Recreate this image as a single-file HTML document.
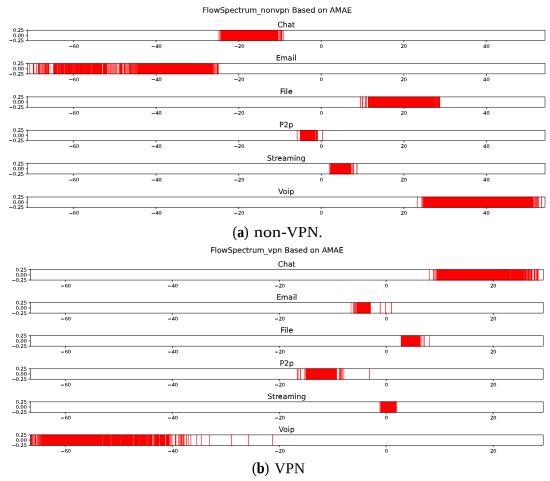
<!DOCTYPE html>
<html><head><meta charset="utf-8"><title>FlowSpectrum</title>
<style>html,body{margin:0;padding:0;background:#fff}svg{display:block}text{text-rendering:geometricPrecision;stroke:#000;stroke-width:.07px;font-family:"DejaVu Sans","Liberation Sans",sans-serif;fill:#000}.k{stroke:#000;stroke-width:.09px}</style>
</head><body>
<svg width="550" height="481" viewBox="0 0 550 481">
<rect width="550" height="481" fill="#fff"/>
<text transform="rotate(0.03 277.10 12.85)" x="277.1" y="12.85" font-size="7.66" text-anchor="middle">FlowSpectrum_nonvpn Based on AMAE</text>
<g fill="#f00"><rect x="218.05" y="30.05" width="0.50" height="10.75" fill-opacity="0.60"/><rect x="219.30" y="30.05" width="1.20" height="10.75" fill-opacity="0.75"/><rect x="220.50" y="30.05" width="57.60" height="10.75"/><rect x="278.10" y="30.05" width="0.47" height="10.75"/><rect x="278.92" y="30.05" width="0.52" height="10.75"/><rect x="279.77" y="30.05" width="0.60" height="10.75"/><rect x="280.36" y="30.05" width="0.14" height="10.75"/><rect x="280.50" y="30.05" width="1.70" height="10.75"/><rect x="282.95" y="30.05" width="0.70" height="10.75" fill-opacity="0.80"/></g>
<rect x="27.50" y="30.20" width="517.50" height="10.30" fill="none" stroke="#000" stroke-width="0.5"/>
<path d="M73.56 40.50v1.7M156.14 40.50v1.7M238.72 40.50v1.7M321.30 40.50v1.7M403.88 40.50v1.7M486.46 40.50v1.7M27.50 30.20h-1.7M27.50 35.35h-1.7M27.50 40.50h-1.7" stroke="#000" stroke-width="0.65" fill="none"/>
<clipPath id="c7660"><rect x="27.50" y="29.70" width="517.50" height="1"/><rect x="27.50" y="40.00" width="517.50" height="1"/></clipPath>
<g fill="#f00" opacity=".45" clip-path="url(#c7660)"><rect x="218.05" y="30.05" width="0.50" height="10.75" fill-opacity="0.60"/><rect x="219.30" y="30.05" width="1.20" height="10.75" fill-opacity="0.75"/><rect x="220.50" y="30.05" width="57.60" height="10.75"/><rect x="278.10" y="30.05" width="0.47" height="10.75"/><rect x="278.92" y="30.05" width="0.52" height="10.75"/><rect x="279.77" y="30.05" width="0.60" height="10.75"/><rect x="280.36" y="30.05" width="0.14" height="10.75"/><rect x="280.50" y="30.05" width="1.70" height="10.75"/><rect x="282.95" y="30.05" width="0.70" height="10.75" fill-opacity="0.80"/></g>
<text transform="rotate(0.03 73.96 48.00)" x="73.96" y="48.00" class="k" font-size="4.94" text-anchor="middle">−60</text>
<text transform="rotate(0.03 156.54 48.00)" x="156.54" y="48.00" class="k" font-size="4.94" text-anchor="middle">−40</text>
<text transform="rotate(0.03 239.12 48.00)" x="239.12" y="48.00" class="k" font-size="4.94" text-anchor="middle">−20</text>
<text transform="rotate(0.03 321.30 48.00)" x="321.30" y="48.00" class="k" font-size="4.94" text-anchor="middle">0</text>
<text transform="rotate(0.03 403.88 48.00)" x="403.88" y="48.00" class="k" font-size="4.94" text-anchor="middle">20</text>
<text transform="rotate(0.03 486.46 48.00)" x="486.46" y="48.00" class="k" font-size="4.94" text-anchor="middle">40</text>
<text transform="rotate(0.03 24.00 32.00)" x="24.00" y="32.00" class="k" font-size="4.94" text-anchor="end">0.25</text>
<text transform="rotate(0.03 24.00 37.15)" x="24.00" y="37.15" class="k" font-size="4.94" text-anchor="end">0.00</text>
<text transform="rotate(0.03 24.00 42.30)" x="24.00" y="42.30" class="k" font-size="4.94" text-anchor="end">−0.25</text>
<text transform="rotate(0.03 286.25 27.25)" x="286.25" y="27.25" font-size="7.45" text-anchor="middle">Chat</text>
<g fill="#f00"><rect x="29.35" y="63.41" width="0.70" height="10.75" fill-opacity="0.85"/><rect x="33.00" y="63.41" width="1.20" height="10.75"/><rect x="35.90" y="63.41" width="0.70" height="10.75"/><rect x="38.00" y="63.41" width="1.10" height="10.75"/><rect x="39.10" y="63.41" width="0.90" height="10.75" fill-opacity="0.90"/><rect x="40.00" y="63.41" width="2.40" height="10.75" fill-opacity="0.55"/><rect x="42.40" y="63.41" width="0.90" height="10.75"/><rect x="43.30" y="63.41" width="0.90" height="10.75" fill-opacity="0.60"/><rect x="44.20" y="63.41" width="3.70" height="10.75" fill-opacity="0.90"/><rect x="47.90" y="63.41" width="1.10" height="10.75"/><rect x="49.40" y="63.41" width="1.20" height="10.75" fill-opacity="0.40"/><rect x="53.20" y="63.41" width="165.40" height="10.75"/><rect x="57.00" y="63.41" width="0.80" height="10.75" fill-opacity="0.30" fill="#fff"/><rect x="59.70" y="63.41" width="0.80" height="10.75" fill-opacity="0.30" fill="#fff"/><rect x="63.90" y="63.41" width="0.80" height="10.75" fill-opacity="0.30" fill="#fff"/><rect x="66.40" y="63.41" width="0.40" height="10.75" fill-opacity="0.08" fill="#fff"/><rect x="73.20" y="63.41" width="0.60" height="10.75" fill-opacity="0.30" fill="#fff"/><rect x="74.80" y="63.41" width="0.40" height="10.75" fill-opacity="0.08" fill="#fff"/><rect x="79.40" y="63.41" width="0.40" height="10.75" fill-opacity="0.08" fill="#fff"/><rect x="84.30" y="63.41" width="0.40" height="10.75" fill-opacity="0.12" fill="#fff"/><rect x="91.10" y="63.41" width="0.60" height="10.75" fill-opacity="0.35" fill="#fff"/><rect x="102.00" y="63.41" width="0.70" height="10.75" fill-opacity="0.90" fill="#fff"/><rect x="107.20" y="63.41" width="0.60" height="10.75" fill-opacity="0.70" fill="#fff"/><rect x="107.90" y="63.41" width="9.10" height="10.75" fill-opacity="0.35" fill="#fff"/><rect x="109.50" y="63.41" width="0.50" height="10.75" fill-opacity="0.30" fill="#fff"/><rect x="112.00" y="63.41" width="0.60" height="10.75" fill-opacity="0.30" fill="#fff"/><rect x="114.50" y="63.41" width="0.50" height="10.75" fill-opacity="0.30" fill="#fff"/><rect x="117.00" y="63.41" width="1.00" height="10.75" fill-opacity="0.65" fill="#fff"/><rect x="118.00" y="63.41" width="0.80" height="10.75" fill-opacity="0.90" fill="#fff"/><rect x="118.80" y="63.41" width="0.60" height="10.75" fill-opacity="0.50" fill="#fff"/><rect x="122.60" y="63.41" width="1.20" height="10.75" fill-opacity="0.95" fill="#fff"/><rect x="125.10" y="63.41" width="4.20" height="10.75" fill-opacity="0.40" fill="#fff"/><rect x="130.80" y="63.41" width="6.70" height="10.75" fill-opacity="0.15" fill="#fff"/><rect x="133.50" y="63.41" width="0.50" height="10.75" fill-opacity="0.20" fill="#fff"/><rect x="212.90" y="63.41" width="2.50" height="10.75" fill-opacity="0.25" fill="#fff"/><rect x="215.50" y="63.41" width="1.00" height="10.75" fill-opacity="0.95" fill="#fff"/></g>
<rect x="27.50" y="63.56" width="517.50" height="10.30" fill="none" stroke="#000" stroke-width="0.5"/>
<path d="M73.56 73.86v1.7M156.14 73.86v1.7M238.72 73.86v1.7M321.30 73.86v1.7M403.88 73.86v1.7M486.46 73.86v1.7M27.50 63.56h-1.7M27.50 68.71h-1.7M27.50 73.86h-1.7" stroke="#000" stroke-width="0.65" fill="none"/>
<clipPath id="c7661"><rect x="27.50" y="63.06" width="517.50" height="1"/><rect x="27.50" y="73.36" width="517.50" height="1"/></clipPath>
<g fill="#f00" opacity=".45" clip-path="url(#c7661)"><rect x="29.35" y="63.41" width="0.70" height="10.75" fill-opacity="0.85"/><rect x="33.00" y="63.41" width="1.20" height="10.75"/><rect x="35.90" y="63.41" width="0.70" height="10.75"/><rect x="38.00" y="63.41" width="1.10" height="10.75"/><rect x="39.10" y="63.41" width="0.90" height="10.75" fill-opacity="0.90"/><rect x="40.00" y="63.41" width="2.40" height="10.75" fill-opacity="0.55"/><rect x="42.40" y="63.41" width="0.90" height="10.75"/><rect x="43.30" y="63.41" width="0.90" height="10.75" fill-opacity="0.60"/><rect x="44.20" y="63.41" width="3.70" height="10.75" fill-opacity="0.90"/><rect x="47.90" y="63.41" width="1.10" height="10.75"/><rect x="49.40" y="63.41" width="1.20" height="10.75" fill-opacity="0.40"/><rect x="53.20" y="63.41" width="165.40" height="10.75"/><rect x="57.00" y="63.41" width="0.80" height="10.75" fill-opacity="0.30" fill="#fff"/><rect x="59.70" y="63.41" width="0.80" height="10.75" fill-opacity="0.30" fill="#fff"/><rect x="63.90" y="63.41" width="0.80" height="10.75" fill-opacity="0.30" fill="#fff"/><rect x="66.40" y="63.41" width="0.40" height="10.75" fill-opacity="0.08" fill="#fff"/><rect x="73.20" y="63.41" width="0.60" height="10.75" fill-opacity="0.30" fill="#fff"/><rect x="74.80" y="63.41" width="0.40" height="10.75" fill-opacity="0.08" fill="#fff"/><rect x="79.40" y="63.41" width="0.40" height="10.75" fill-opacity="0.08" fill="#fff"/><rect x="84.30" y="63.41" width="0.40" height="10.75" fill-opacity="0.12" fill="#fff"/><rect x="91.10" y="63.41" width="0.60" height="10.75" fill-opacity="0.35" fill="#fff"/><rect x="102.00" y="63.41" width="0.70" height="10.75" fill-opacity="0.90" fill="#fff"/><rect x="107.20" y="63.41" width="0.60" height="10.75" fill-opacity="0.70" fill="#fff"/><rect x="107.90" y="63.41" width="9.10" height="10.75" fill-opacity="0.35" fill="#fff"/><rect x="109.50" y="63.41" width="0.50" height="10.75" fill-opacity="0.30" fill="#fff"/><rect x="112.00" y="63.41" width="0.60" height="10.75" fill-opacity="0.30" fill="#fff"/><rect x="114.50" y="63.41" width="0.50" height="10.75" fill-opacity="0.30" fill="#fff"/><rect x="117.00" y="63.41" width="1.00" height="10.75" fill-opacity="0.65" fill="#fff"/><rect x="118.00" y="63.41" width="0.80" height="10.75" fill-opacity="0.90" fill="#fff"/><rect x="118.80" y="63.41" width="0.60" height="10.75" fill-opacity="0.50" fill="#fff"/><rect x="122.60" y="63.41" width="1.20" height="10.75" fill-opacity="0.95" fill="#fff"/><rect x="125.10" y="63.41" width="4.20" height="10.75" fill-opacity="0.40" fill="#fff"/><rect x="130.80" y="63.41" width="6.70" height="10.75" fill-opacity="0.15" fill="#fff"/><rect x="133.50" y="63.41" width="0.50" height="10.75" fill-opacity="0.20" fill="#fff"/><rect x="212.90" y="63.41" width="2.50" height="10.75" fill-opacity="0.25" fill="#fff"/><rect x="215.50" y="63.41" width="1.00" height="10.75" fill-opacity="0.95" fill="#fff"/></g>
<text transform="rotate(0.03 73.96 81.36)" x="73.96" y="81.36" class="k" font-size="4.94" text-anchor="middle">−60</text>
<text transform="rotate(0.03 156.54 81.36)" x="156.54" y="81.36" class="k" font-size="4.94" text-anchor="middle">−40</text>
<text transform="rotate(0.03 239.12 81.36)" x="239.12" y="81.36" class="k" font-size="4.94" text-anchor="middle">−20</text>
<text transform="rotate(0.03 321.30 81.36)" x="321.30" y="81.36" class="k" font-size="4.94" text-anchor="middle">0</text>
<text transform="rotate(0.03 403.88 81.36)" x="403.88" y="81.36" class="k" font-size="4.94" text-anchor="middle">20</text>
<text transform="rotate(0.03 486.46 81.36)" x="486.46" y="81.36" class="k" font-size="4.94" text-anchor="middle">40</text>
<text transform="rotate(0.03 24.00 65.36)" x="24.00" y="65.36" class="k" font-size="4.94" text-anchor="end">0.25</text>
<text transform="rotate(0.03 24.00 70.51)" x="24.00" y="70.51" class="k" font-size="4.94" text-anchor="end">0.00</text>
<text transform="rotate(0.03 24.00 75.66)" x="24.00" y="75.66" class="k" font-size="4.94" text-anchor="end">−0.25</text>
<text transform="rotate(0.03 286.25 60.61)" x="286.25" y="60.61" font-size="7.45" text-anchor="middle">Email</text>
<g fill="#f00"><rect x="359.90" y="96.77" width="0.90" height="10.75" fill-opacity="0.80"/><rect x="361.90" y="96.77" width="1.10" height="10.75" fill-opacity="0.80"/><rect x="363.10" y="96.77" width="1.60" height="10.75" fill-opacity="0.12"/><rect x="365.00" y="96.77" width="1.90" height="10.75" fill-opacity="0.70"/><rect x="368.00" y="96.77" width="72.10" height="10.75"/><rect x="370.30" y="96.77" width="0.40" height="10.75" fill-opacity="0.15" fill="#fff"/><rect x="433.10" y="96.77" width="0.40" height="10.75" fill-opacity="0.12" fill="#fff"/><rect x="434.50" y="96.77" width="0.40" height="10.75" fill-opacity="0.12" fill="#fff"/><rect x="436.00" y="96.77" width="0.60" height="10.75" fill-opacity="0.20" fill="#fff"/><rect x="437.80" y="96.77" width="0.40" height="10.75" fill-opacity="0.15" fill="#fff"/></g>
<rect x="27.50" y="96.92" width="517.50" height="10.30" fill="none" stroke="#000" stroke-width="0.5"/>
<path d="M73.56 107.22v1.7M156.14 107.22v1.7M238.72 107.22v1.7M321.30 107.22v1.7M403.88 107.22v1.7M486.46 107.22v1.7M27.50 96.92h-1.7M27.50 102.07h-1.7M27.50 107.22h-1.7" stroke="#000" stroke-width="0.65" fill="none"/>
<clipPath id="c7662"><rect x="27.50" y="96.42" width="517.50" height="1"/><rect x="27.50" y="106.72" width="517.50" height="1"/></clipPath>
<g fill="#f00" opacity=".45" clip-path="url(#c7662)"><rect x="359.90" y="96.77" width="0.90" height="10.75" fill-opacity="0.80"/><rect x="361.90" y="96.77" width="1.10" height="10.75" fill-opacity="0.80"/><rect x="363.10" y="96.77" width="1.60" height="10.75" fill-opacity="0.12"/><rect x="365.00" y="96.77" width="1.90" height="10.75" fill-opacity="0.70"/><rect x="368.00" y="96.77" width="72.10" height="10.75"/><rect x="370.30" y="96.77" width="0.40" height="10.75" fill-opacity="0.15" fill="#fff"/><rect x="433.10" y="96.77" width="0.40" height="10.75" fill-opacity="0.12" fill="#fff"/><rect x="434.50" y="96.77" width="0.40" height="10.75" fill-opacity="0.12" fill="#fff"/><rect x="436.00" y="96.77" width="0.60" height="10.75" fill-opacity="0.20" fill="#fff"/><rect x="437.80" y="96.77" width="0.40" height="10.75" fill-opacity="0.15" fill="#fff"/></g>
<text transform="rotate(0.03 73.96 114.72)" x="73.96" y="114.72" class="k" font-size="4.94" text-anchor="middle">−60</text>
<text transform="rotate(0.03 156.54 114.72)" x="156.54" y="114.72" class="k" font-size="4.94" text-anchor="middle">−40</text>
<text transform="rotate(0.03 239.12 114.72)" x="239.12" y="114.72" class="k" font-size="4.94" text-anchor="middle">−20</text>
<text transform="rotate(0.03 321.30 114.72)" x="321.30" y="114.72" class="k" font-size="4.94" text-anchor="middle">0</text>
<text transform="rotate(0.03 403.88 114.72)" x="403.88" y="114.72" class="k" font-size="4.94" text-anchor="middle">20</text>
<text transform="rotate(0.03 486.46 114.72)" x="486.46" y="114.72" class="k" font-size="4.94" text-anchor="middle">40</text>
<text transform="rotate(0.03 24.00 98.72)" x="24.00" y="98.72" class="k" font-size="4.94" text-anchor="end">0.25</text>
<text transform="rotate(0.03 24.00 103.87)" x="24.00" y="103.87" class="k" font-size="4.94" text-anchor="end">0.00</text>
<text transform="rotate(0.03 24.00 109.02)" x="24.00" y="109.02" class="k" font-size="4.94" text-anchor="end">−0.25</text>
<text transform="rotate(0.03 286.25 93.97)" x="286.25" y="93.97" font-size="7.45" text-anchor="middle">File</text>
<g fill="#f00"><rect x="296.80" y="130.13" width="0.40" height="10.75"/><rect x="297.75" y="130.13" width="0.40" height="10.75"/><rect x="300.00" y="130.13" width="15.70" height="10.75"/><rect x="315.90" y="130.13" width="0.50" height="10.75" fill-opacity="0.70" fill="#fff"/><rect x="315.70" y="130.13" width="2.20" height="10.75"/><rect x="317.00" y="130.13" width="0.90" height="10.75" fill-opacity="0.10" fill="#fff"/><rect x="322.18" y="130.13" width="0.65" height="10.75"/></g>
<rect x="27.50" y="130.28" width="517.50" height="10.30" fill="none" stroke="#000" stroke-width="0.5"/>
<path d="M73.56 140.58v1.7M156.14 140.58v1.7M238.72 140.58v1.7M321.30 140.58v1.7M403.88 140.58v1.7M486.46 140.58v1.7M27.50 130.28h-1.7M27.50 135.43h-1.7M27.50 140.58h-1.7" stroke="#000" stroke-width="0.65" fill="none"/>
<clipPath id="c7663"><rect x="27.50" y="129.78" width="517.50" height="1"/><rect x="27.50" y="140.08" width="517.50" height="1"/></clipPath>
<g fill="#f00" opacity=".45" clip-path="url(#c7663)"><rect x="296.80" y="130.13" width="0.40" height="10.75"/><rect x="297.75" y="130.13" width="0.40" height="10.75"/><rect x="300.00" y="130.13" width="15.70" height="10.75"/><rect x="315.90" y="130.13" width="0.50" height="10.75" fill-opacity="0.70" fill="#fff"/><rect x="315.70" y="130.13" width="2.20" height="10.75"/><rect x="317.00" y="130.13" width="0.90" height="10.75" fill-opacity="0.10" fill="#fff"/><rect x="322.18" y="130.13" width="0.65" height="10.75"/></g>
<text transform="rotate(0.03 73.96 148.08)" x="73.96" y="148.08" class="k" font-size="4.94" text-anchor="middle">−60</text>
<text transform="rotate(0.03 156.54 148.08)" x="156.54" y="148.08" class="k" font-size="4.94" text-anchor="middle">−40</text>
<text transform="rotate(0.03 239.12 148.08)" x="239.12" y="148.08" class="k" font-size="4.94" text-anchor="middle">−20</text>
<text transform="rotate(0.03 321.30 148.08)" x="321.30" y="148.08" class="k" font-size="4.94" text-anchor="middle">0</text>
<text transform="rotate(0.03 403.88 148.08)" x="403.88" y="148.08" class="k" font-size="4.94" text-anchor="middle">20</text>
<text transform="rotate(0.03 486.46 148.08)" x="486.46" y="148.08" class="k" font-size="4.94" text-anchor="middle">40</text>
<text transform="rotate(0.03 24.00 132.08)" x="24.00" y="132.08" class="k" font-size="4.94" text-anchor="end">0.25</text>
<text transform="rotate(0.03 24.00 137.23)" x="24.00" y="137.23" class="k" font-size="4.94" text-anchor="end">0.00</text>
<text transform="rotate(0.03 24.00 142.38)" x="24.00" y="142.38" class="k" font-size="4.94" text-anchor="end">−0.25</text>
<text transform="rotate(0.03 286.25 127.33)" x="286.25" y="127.33" font-size="7.45" text-anchor="middle">P2p</text>
<g fill="#f00"><rect x="329.30" y="163.49" width="0.90" height="10.75" fill-opacity="0.85"/><rect x="330.20" y="163.49" width="21.30" height="10.75"/><rect x="352.40" y="163.49" width="1.40" height="10.75" fill-opacity="0.90"/><rect x="356.10" y="163.49" width="1.60" height="10.75" fill-opacity="0.50"/></g>
<rect x="27.50" y="163.64" width="517.50" height="10.30" fill="none" stroke="#000" stroke-width="0.5"/>
<path d="M73.56 173.94v1.7M156.14 173.94v1.7M238.72 173.94v1.7M321.30 173.94v1.7M403.88 173.94v1.7M486.46 173.94v1.7M27.50 163.64h-1.7M27.50 168.79h-1.7M27.50 173.94h-1.7" stroke="#000" stroke-width="0.65" fill="none"/>
<clipPath id="c7664"><rect x="27.50" y="163.14" width="517.50" height="1"/><rect x="27.50" y="173.44" width="517.50" height="1"/></clipPath>
<g fill="#f00" opacity=".45" clip-path="url(#c7664)"><rect x="329.30" y="163.49" width="0.90" height="10.75" fill-opacity="0.85"/><rect x="330.20" y="163.49" width="21.30" height="10.75"/><rect x="352.40" y="163.49" width="1.40" height="10.75" fill-opacity="0.90"/><rect x="356.10" y="163.49" width="1.60" height="10.75" fill-opacity="0.50"/></g>
<text transform="rotate(0.03 73.96 181.44)" x="73.96" y="181.44" class="k" font-size="4.94" text-anchor="middle">−60</text>
<text transform="rotate(0.03 156.54 181.44)" x="156.54" y="181.44" class="k" font-size="4.94" text-anchor="middle">−40</text>
<text transform="rotate(0.03 239.12 181.44)" x="239.12" y="181.44" class="k" font-size="4.94" text-anchor="middle">−20</text>
<text transform="rotate(0.03 321.30 181.44)" x="321.30" y="181.44" class="k" font-size="4.94" text-anchor="middle">0</text>
<text transform="rotate(0.03 403.88 181.44)" x="403.88" y="181.44" class="k" font-size="4.94" text-anchor="middle">20</text>
<text transform="rotate(0.03 486.46 181.44)" x="486.46" y="181.44" class="k" font-size="4.94" text-anchor="middle">40</text>
<text transform="rotate(0.03 24.00 165.44)" x="24.00" y="165.44" class="k" font-size="4.94" text-anchor="end">0.25</text>
<text transform="rotate(0.03 24.00 170.59)" x="24.00" y="170.59" class="k" font-size="4.94" text-anchor="end">0.00</text>
<text transform="rotate(0.03 24.00 175.74)" x="24.00" y="175.74" class="k" font-size="4.94" text-anchor="end">−0.25</text>
<text transform="rotate(0.03 286.25 160.69)" x="286.25" y="160.69" font-size="7.45" text-anchor="middle">Streaming</text>
<g fill="#f00"><rect x="417.03" y="196.85" width="0.55" height="10.75"/><rect x="421.30" y="196.85" width="0.36" height="10.75"/><rect x="421.89" y="196.85" width="0.54" height="10.75"/><rect x="422.58" y="196.85" width="0.50" height="10.75"/><rect x="423.10" y="196.85" width="115.80" height="10.75"/><rect x="533.00" y="196.85" width="2.80" height="10.75" fill-opacity="0.30" fill="#fff"/><rect x="535.80" y="196.85" width="3.10" height="10.75" fill-opacity="0.20" fill="#fff"/><rect x="534.20" y="196.85" width="0.40" height="10.75" fill-opacity="0.15" fill="#fff"/><rect x="536.80" y="196.85" width="0.40" height="10.75" fill-opacity="0.20" fill="#fff"/><rect x="541.20" y="196.85" width="0.90" height="10.75" fill-opacity="0.85"/></g>
<rect x="27.50" y="197.00" width="517.50" height="10.30" fill="none" stroke="#000" stroke-width="0.5"/>
<path d="M73.56 207.30v1.7M156.14 207.30v1.7M238.72 207.30v1.7M321.30 207.30v1.7M403.88 207.30v1.7M486.46 207.30v1.7M27.50 197.00h-1.7M27.50 202.15h-1.7M27.50 207.30h-1.7" stroke="#000" stroke-width="0.65" fill="none"/>
<clipPath id="c7665"><rect x="27.50" y="196.50" width="517.50" height="1"/><rect x="27.50" y="206.80" width="517.50" height="1"/></clipPath>
<g fill="#f00" opacity=".45" clip-path="url(#c7665)"><rect x="417.03" y="196.85" width="0.55" height="10.75"/><rect x="421.30" y="196.85" width="0.36" height="10.75"/><rect x="421.89" y="196.85" width="0.54" height="10.75"/><rect x="422.58" y="196.85" width="0.50" height="10.75"/><rect x="423.10" y="196.85" width="115.80" height="10.75"/><rect x="533.00" y="196.85" width="2.80" height="10.75" fill-opacity="0.30" fill="#fff"/><rect x="535.80" y="196.85" width="3.10" height="10.75" fill-opacity="0.20" fill="#fff"/><rect x="534.20" y="196.85" width="0.40" height="10.75" fill-opacity="0.15" fill="#fff"/><rect x="536.80" y="196.85" width="0.40" height="10.75" fill-opacity="0.20" fill="#fff"/><rect x="541.20" y="196.85" width="0.90" height="10.75" fill-opacity="0.85"/></g>
<text transform="rotate(0.03 73.96 214.80)" x="73.96" y="214.80" class="k" font-size="4.94" text-anchor="middle">−60</text>
<text transform="rotate(0.03 156.54 214.80)" x="156.54" y="214.80" class="k" font-size="4.94" text-anchor="middle">−40</text>
<text transform="rotate(0.03 239.12 214.80)" x="239.12" y="214.80" class="k" font-size="4.94" text-anchor="middle">−20</text>
<text transform="rotate(0.03 321.30 214.80)" x="321.30" y="214.80" class="k" font-size="4.94" text-anchor="middle">0</text>
<text transform="rotate(0.03 403.88 214.80)" x="403.88" y="214.80" class="k" font-size="4.94" text-anchor="middle">20</text>
<text transform="rotate(0.03 486.46 214.80)" x="486.46" y="214.80" class="k" font-size="4.94" text-anchor="middle">40</text>
<text transform="rotate(0.03 24.00 198.80)" x="24.00" y="198.80" class="k" font-size="4.94" text-anchor="end">0.25</text>
<text transform="rotate(0.03 24.00 203.95)" x="24.00" y="203.95" class="k" font-size="4.94" text-anchor="end">0.00</text>
<text transform="rotate(0.03 24.00 209.10)" x="24.00" y="209.10" class="k" font-size="4.94" text-anchor="end">−0.25</text>
<text transform="rotate(0.03 286.25 194.05)" x="286.25" y="194.05" font-size="7.45" text-anchor="middle">Voip</text>
<text transform="rotate(0.03 232.60 237.00)" x="232.6" y="237.0" style="font-family:'Liberation Serif',serif" font-size="15.4"><tspan x="232.6" textLength="16.1" lengthAdjust="spacingAndGlyphs">(<tspan font-weight="bold">a</tspan>)</tspan> <tspan x="254.0" textLength="26.9" lengthAdjust="spacingAndGlyphs">non</tspan><tspan x="281.3" textLength="41.1" lengthAdjust="spacingAndGlyphs">-VPN.</tspan></text>
<text transform="rotate(0.03 277.00 252.70)" x="277.0" y="252.7" font-size="7.56" text-anchor="middle">FlowSpectrum_vpn Based on AMAE</text>
<g fill="#f00"><rect x="428.93" y="269.50" width="0.55" height="10.85"/><rect x="433.00" y="269.50" width="0.59" height="10.85"/><rect x="433.71" y="269.50" width="0.58" height="10.85"/><rect x="434.81" y="269.50" width="0.55" height="10.85"/><rect x="435.84" y="269.50" width="0.60" height="10.85"/><rect x="436.50" y="269.50" width="102.10" height="10.85"/><rect x="510.20" y="269.50" width="0.40" height="10.85" fill-opacity="0.30" fill="#fff"/><rect x="523.80" y="269.50" width="0.40" height="10.85" fill-opacity="0.30" fill="#fff"/><rect x="526.40" y="269.50" width="1.10" height="10.85" fill-opacity="0.40" fill="#fff"/><rect x="529.30" y="269.50" width="1.20" height="10.85" fill-opacity="0.40" fill="#fff"/><rect x="532.30" y="269.50" width="1.70" height="10.85" fill-opacity="0.85" fill="#fff"/><rect x="535.20" y="269.50" width="1.20" height="10.85" fill-opacity="0.80" fill="#fff"/><rect x="537.80" y="269.50" width="0.80" height="10.85" fill-opacity="0.30" fill="#fff"/></g>
<rect x="30.30" y="269.65" width="512.90" height="10.40" fill="none" stroke="#000" stroke-width="0.5"/>
<path d="M65.36 280.05v1.7M172.34 280.05v1.7M279.32 280.05v1.7M386.30 280.05v1.7M493.28 280.05v1.7M30.30 269.65h-1.7M30.30 274.85h-1.7M30.30 280.05h-1.7" stroke="#000" stroke-width="0.65" fill="none"/>
<clipPath id="c7560"><rect x="30.30" y="269.15" width="512.90" height="1"/><rect x="30.30" y="279.55" width="512.90" height="1"/></clipPath>
<g fill="#f00" opacity=".45" clip-path="url(#c7560)"><rect x="428.93" y="269.50" width="0.55" height="10.85"/><rect x="433.00" y="269.50" width="0.59" height="10.85"/><rect x="433.71" y="269.50" width="0.58" height="10.85"/><rect x="434.81" y="269.50" width="0.55" height="10.85"/><rect x="435.84" y="269.50" width="0.60" height="10.85"/><rect x="436.50" y="269.50" width="102.10" height="10.85"/><rect x="510.20" y="269.50" width="0.40" height="10.85" fill-opacity="0.30" fill="#fff"/><rect x="523.80" y="269.50" width="0.40" height="10.85" fill-opacity="0.30" fill="#fff"/><rect x="526.40" y="269.50" width="1.10" height="10.85" fill-opacity="0.40" fill="#fff"/><rect x="529.30" y="269.50" width="1.20" height="10.85" fill-opacity="0.40" fill="#fff"/><rect x="532.30" y="269.50" width="1.70" height="10.85" fill-opacity="0.85" fill="#fff"/><rect x="535.20" y="269.50" width="1.20" height="10.85" fill-opacity="0.80" fill="#fff"/><rect x="537.80" y="269.50" width="0.80" height="10.85" fill-opacity="0.30" fill="#fff"/></g>
<text transform="rotate(0.03 65.76 287.40)" x="65.76" y="287.40" class="k" font-size="4.94" text-anchor="middle">−60</text>
<text transform="rotate(0.03 172.74 287.40)" x="172.74" y="287.40" class="k" font-size="4.94" text-anchor="middle">−40</text>
<text transform="rotate(0.03 279.72 287.40)" x="279.72" y="287.40" class="k" font-size="4.94" text-anchor="middle">−20</text>
<text transform="rotate(0.03 386.30 287.40)" x="386.30" y="287.40" class="k" font-size="4.94" text-anchor="middle">0</text>
<text transform="rotate(0.03 493.28 287.40)" x="493.28" y="287.40" class="k" font-size="4.94" text-anchor="middle">20</text>
<text transform="rotate(0.03 26.80 271.45)" x="26.80" y="271.45" class="k" font-size="4.94" text-anchor="end">0.25</text>
<text transform="rotate(0.03 26.80 276.65)" x="26.80" y="276.65" class="k" font-size="4.94" text-anchor="end">0.00</text>
<text transform="rotate(0.03 26.80 281.85)" x="26.80" y="281.85" class="k" font-size="4.94" text-anchor="end">−0.25</text>
<text transform="rotate(0.03 286.75 266.70)" x="286.75" y="266.70" font-size="7.45" text-anchor="middle">Chat</text>
<g fill="#f00"><rect x="350.60" y="302.55" width="0.90" height="10.85" fill-opacity="0.50"/><rect x="353.10" y="302.55" width="3.80" height="10.85" fill-opacity="0.78"/><rect x="356.90" y="302.55" width="13.90" height="10.85"/><rect x="354.30" y="302.55" width="0.40" height="10.85" fill-opacity="0.30" fill="#fff"/><rect x="355.80" y="302.55" width="0.30" height="10.85" fill-opacity="0.20" fill="#fff"/><rect x="379.88" y="302.55" width="0.65" height="10.85"/><rect x="385.38" y="302.55" width="0.65" height="10.85"/><rect x="391.18" y="302.55" width="0.65" height="10.85"/></g>
<rect x="30.30" y="302.70" width="512.90" height="10.40" fill="none" stroke="#000" stroke-width="0.5"/>
<path d="M65.36 313.10v1.7M172.34 313.10v1.7M279.32 313.10v1.7M386.30 313.10v1.7M493.28 313.10v1.7M30.30 302.70h-1.7M30.30 307.90h-1.7M30.30 313.10h-1.7" stroke="#000" stroke-width="0.65" fill="none"/>
<clipPath id="c7561"><rect x="30.30" y="302.20" width="512.90" height="1"/><rect x="30.30" y="312.60" width="512.90" height="1"/></clipPath>
<g fill="#f00" opacity=".45" clip-path="url(#c7561)"><rect x="350.60" y="302.55" width="0.90" height="10.85" fill-opacity="0.50"/><rect x="353.10" y="302.55" width="3.80" height="10.85" fill-opacity="0.78"/><rect x="356.90" y="302.55" width="13.90" height="10.85"/><rect x="354.30" y="302.55" width="0.40" height="10.85" fill-opacity="0.30" fill="#fff"/><rect x="355.80" y="302.55" width="0.30" height="10.85" fill-opacity="0.20" fill="#fff"/><rect x="379.88" y="302.55" width="0.65" height="10.85"/><rect x="385.38" y="302.55" width="0.65" height="10.85"/><rect x="391.18" y="302.55" width="0.65" height="10.85"/></g>
<text transform="rotate(0.03 65.76 320.45)" x="65.76" y="320.45" class="k" font-size="4.94" text-anchor="middle">−60</text>
<text transform="rotate(0.03 172.74 320.45)" x="172.74" y="320.45" class="k" font-size="4.94" text-anchor="middle">−40</text>
<text transform="rotate(0.03 279.72 320.45)" x="279.72" y="320.45" class="k" font-size="4.94" text-anchor="middle">−20</text>
<text transform="rotate(0.03 386.30 320.45)" x="386.30" y="320.45" class="k" font-size="4.94" text-anchor="middle">0</text>
<text transform="rotate(0.03 493.28 320.45)" x="493.28" y="320.45" class="k" font-size="4.94" text-anchor="middle">20</text>
<text transform="rotate(0.03 26.80 304.50)" x="26.80" y="304.50" class="k" font-size="4.94" text-anchor="end">0.25</text>
<text transform="rotate(0.03 26.80 309.70)" x="26.80" y="309.70" class="k" font-size="4.94" text-anchor="end">0.00</text>
<text transform="rotate(0.03 26.80 314.90)" x="26.80" y="314.90" class="k" font-size="4.94" text-anchor="end">−0.25</text>
<text transform="rotate(0.03 286.75 299.75)" x="286.75" y="299.75" font-size="7.45" text-anchor="middle">Email</text>
<g fill="#f00"><rect x="400.90" y="335.60" width="19.10" height="10.85"/><rect x="420.00" y="335.60" width="0.49" height="10.85"/><rect x="420.74" y="335.60" width="0.37" height="10.85"/><rect x="421.24" y="335.60" width="0.36" height="10.85"/><rect x="422.85" y="335.60" width="0.50" height="10.85"/><rect x="424.25" y="335.60" width="0.50" height="10.85"/><rect x="429.35" y="335.60" width="0.50" height="10.85"/></g>
<rect x="30.30" y="335.75" width="512.90" height="10.40" fill="none" stroke="#000" stroke-width="0.5"/>
<path d="M65.36 346.15v1.7M172.34 346.15v1.7M279.32 346.15v1.7M386.30 346.15v1.7M493.28 346.15v1.7M30.30 335.75h-1.7M30.30 340.95h-1.7M30.30 346.15h-1.7" stroke="#000" stroke-width="0.65" fill="none"/>
<clipPath id="c7562"><rect x="30.30" y="335.25" width="512.90" height="1"/><rect x="30.30" y="345.65" width="512.90" height="1"/></clipPath>
<g fill="#f00" opacity=".45" clip-path="url(#c7562)"><rect x="400.90" y="335.60" width="19.10" height="10.85"/><rect x="420.00" y="335.60" width="0.49" height="10.85"/><rect x="420.74" y="335.60" width="0.37" height="10.85"/><rect x="421.24" y="335.60" width="0.36" height="10.85"/><rect x="422.85" y="335.60" width="0.50" height="10.85"/><rect x="424.25" y="335.60" width="0.50" height="10.85"/><rect x="429.35" y="335.60" width="0.50" height="10.85"/></g>
<text transform="rotate(0.03 65.76 353.50)" x="65.76" y="353.50" class="k" font-size="4.94" text-anchor="middle">−60</text>
<text transform="rotate(0.03 172.74 353.50)" x="172.74" y="353.50" class="k" font-size="4.94" text-anchor="middle">−40</text>
<text transform="rotate(0.03 279.72 353.50)" x="279.72" y="353.50" class="k" font-size="4.94" text-anchor="middle">−20</text>
<text transform="rotate(0.03 386.30 353.50)" x="386.30" y="353.50" class="k" font-size="4.94" text-anchor="middle">0</text>
<text transform="rotate(0.03 493.28 353.50)" x="493.28" y="353.50" class="k" font-size="4.94" text-anchor="middle">20</text>
<text transform="rotate(0.03 26.80 337.55)" x="26.80" y="337.55" class="k" font-size="4.94" text-anchor="end">0.25</text>
<text transform="rotate(0.03 26.80 342.75)" x="26.80" y="342.75" class="k" font-size="4.94" text-anchor="end">0.00</text>
<text transform="rotate(0.03 26.80 347.95)" x="26.80" y="347.95" class="k" font-size="4.94" text-anchor="end">−0.25</text>
<text transform="rotate(0.03 286.75 332.80)" x="286.75" y="332.80" font-size="7.45" text-anchor="middle">File</text>
<g fill="#f00"><rect x="296.90" y="368.65" width="1.60" height="10.85" fill-opacity="0.70"/><rect x="300.00" y="368.65" width="1.10" height="10.85" fill-opacity="0.70"/><rect x="304.20" y="368.65" width="1.60" height="10.85" fill-opacity="0.55"/><rect x="305.80" y="368.65" width="31.10" height="10.85"/><rect x="339.10" y="368.65" width="2.70" height="10.85" fill-opacity="0.80"/><rect x="341.80" y="368.65" width="0.60" height="10.85" fill-opacity="0.40"/><rect x="342.40" y="368.65" width="0.80" height="10.85" fill-opacity="0.65"/><rect x="343.40" y="368.65" width="0.90" height="10.85" fill-opacity="0.50"/><rect x="369.40" y="368.65" width="0.60" height="10.85"/></g>
<rect x="30.30" y="368.80" width="512.90" height="10.40" fill="none" stroke="#000" stroke-width="0.5"/>
<path d="M65.36 379.20v1.7M172.34 379.20v1.7M279.32 379.20v1.7M386.30 379.20v1.7M493.28 379.20v1.7M30.30 368.80h-1.7M30.30 374.00h-1.7M30.30 379.20h-1.7" stroke="#000" stroke-width="0.65" fill="none"/>
<clipPath id="c7563"><rect x="30.30" y="368.30" width="512.90" height="1"/><rect x="30.30" y="378.70" width="512.90" height="1"/></clipPath>
<g fill="#f00" opacity=".45" clip-path="url(#c7563)"><rect x="296.90" y="368.65" width="1.60" height="10.85" fill-opacity="0.70"/><rect x="300.00" y="368.65" width="1.10" height="10.85" fill-opacity="0.70"/><rect x="304.20" y="368.65" width="1.60" height="10.85" fill-opacity="0.55"/><rect x="305.80" y="368.65" width="31.10" height="10.85"/><rect x="339.10" y="368.65" width="2.70" height="10.85" fill-opacity="0.80"/><rect x="341.80" y="368.65" width="0.60" height="10.85" fill-opacity="0.40"/><rect x="342.40" y="368.65" width="0.80" height="10.85" fill-opacity="0.65"/><rect x="343.40" y="368.65" width="0.90" height="10.85" fill-opacity="0.50"/><rect x="369.40" y="368.65" width="0.60" height="10.85"/></g>
<text transform="rotate(0.03 65.76 386.55)" x="65.76" y="386.55" class="k" font-size="4.94" text-anchor="middle">−60</text>
<text transform="rotate(0.03 172.74 386.55)" x="172.74" y="386.55" class="k" font-size="4.94" text-anchor="middle">−40</text>
<text transform="rotate(0.03 279.72 386.55)" x="279.72" y="386.55" class="k" font-size="4.94" text-anchor="middle">−20</text>
<text transform="rotate(0.03 386.30 386.55)" x="386.30" y="386.55" class="k" font-size="4.94" text-anchor="middle">0</text>
<text transform="rotate(0.03 493.28 386.55)" x="493.28" y="386.55" class="k" font-size="4.94" text-anchor="middle">20</text>
<text transform="rotate(0.03 26.80 370.60)" x="26.80" y="370.60" class="k" font-size="4.94" text-anchor="end">0.25</text>
<text transform="rotate(0.03 26.80 375.80)" x="26.80" y="375.80" class="k" font-size="4.94" text-anchor="end">0.00</text>
<text transform="rotate(0.03 26.80 381.00)" x="26.80" y="381.00" class="k" font-size="4.94" text-anchor="end">−0.25</text>
<text transform="rotate(0.03 286.75 365.85)" x="286.75" y="365.85" font-size="7.45" text-anchor="middle">P2p</text>
<g fill="#f00"><rect x="379.50" y="401.70" width="0.80" height="10.85" fill-opacity="0.70"/><rect x="380.30" y="401.70" width="15.70" height="10.85"/><rect x="396.00" y="401.70" width="1.00" height="10.85" fill-opacity="0.70"/></g>
<rect x="30.30" y="401.85" width="512.90" height="10.40" fill="none" stroke="#000" stroke-width="0.5"/>
<path d="M65.36 412.25v1.7M172.34 412.25v1.7M279.32 412.25v1.7M386.30 412.25v1.7M493.28 412.25v1.7M30.30 401.85h-1.7M30.30 407.05h-1.7M30.30 412.25h-1.7" stroke="#000" stroke-width="0.65" fill="none"/>
<clipPath id="c7564"><rect x="30.30" y="401.35" width="512.90" height="1"/><rect x="30.30" y="411.75" width="512.90" height="1"/></clipPath>
<g fill="#f00" opacity=".45" clip-path="url(#c7564)"><rect x="379.50" y="401.70" width="0.80" height="10.85" fill-opacity="0.70"/><rect x="380.30" y="401.70" width="15.70" height="10.85"/><rect x="396.00" y="401.70" width="1.00" height="10.85" fill-opacity="0.70"/></g>
<text transform="rotate(0.03 65.76 419.60)" x="65.76" y="419.60" class="k" font-size="4.94" text-anchor="middle">−60</text>
<text transform="rotate(0.03 172.74 419.60)" x="172.74" y="419.60" class="k" font-size="4.94" text-anchor="middle">−40</text>
<text transform="rotate(0.03 279.72 419.60)" x="279.72" y="419.60" class="k" font-size="4.94" text-anchor="middle">−20</text>
<text transform="rotate(0.03 386.30 419.60)" x="386.30" y="419.60" class="k" font-size="4.94" text-anchor="middle">0</text>
<text transform="rotate(0.03 493.28 419.60)" x="493.28" y="419.60" class="k" font-size="4.94" text-anchor="middle">20</text>
<text transform="rotate(0.03 26.80 403.65)" x="26.80" y="403.65" class="k" font-size="4.94" text-anchor="end">0.25</text>
<text transform="rotate(0.03 26.80 408.85)" x="26.80" y="408.85" class="k" font-size="4.94" text-anchor="end">0.00</text>
<text transform="rotate(0.03 26.80 414.05)" x="26.80" y="414.05" class="k" font-size="4.94" text-anchor="end">−0.25</text>
<text transform="rotate(0.03 286.75 398.90)" x="286.75" y="398.90" font-size="7.45" text-anchor="middle">Streaming</text>
<g fill="#f00"><rect x="30.50" y="434.75" width="142.10" height="10.85"/><rect x="32.60" y="434.75" width="1.00" height="10.85" fill-opacity="0.65" fill="#fff"/><rect x="34.20" y="434.75" width="0.80" height="10.85" fill-opacity="0.60" fill="#fff"/><rect x="36.30" y="434.75" width="1.00" height="10.85" fill-opacity="0.90" fill="#fff"/><rect x="37.90" y="434.75" width="1.60" height="10.85" fill-opacity="0.20" fill="#fff"/><rect x="39.50" y="434.75" width="2.20" height="10.85" fill-opacity="0.10" fill="#fff"/><rect x="102.50" y="434.75" width="0.50" height="10.85" fill-opacity="0.35" fill="#fff"/><rect x="109.50" y="434.75" width="0.40" height="10.85" fill-opacity="0.15" fill="#fff"/><rect x="111.00" y="434.75" width="0.40" height="10.85" fill-opacity="0.40" fill="#fff"/><rect x="120.00" y="434.75" width="0.40" height="10.85" fill-opacity="0.15" fill="#fff"/><rect x="133.10" y="434.75" width="0.60" height="10.85" fill-opacity="0.50" fill="#fff"/><rect x="139.10" y="434.75" width="0.40" height="10.85" fill-opacity="0.20" fill="#fff"/><rect x="146.70" y="434.75" width="0.40" height="10.85" fill-opacity="0.35" fill="#fff"/><rect x="148.10" y="434.75" width="0.40" height="10.85" fill-opacity="0.30" fill="#fff"/><rect x="152.00" y="434.75" width="1.30" height="10.85" fill-opacity="0.45" fill="#fff"/><rect x="153.60" y="434.75" width="0.80" height="10.85" fill-opacity="0.45" fill="#fff"/><rect x="159.30" y="434.75" width="0.70" height="10.85" fill-opacity="0.40" fill="#fff"/><rect x="165.00" y="434.75" width="1.00" height="10.85" fill-opacity="0.50" fill="#fff"/><rect x="169.30" y="434.75" width="2.20" height="10.85" fill-opacity="0.40" fill="#fff"/><rect x="171.50" y="434.75" width="1.10" height="10.85" fill-opacity="0.75" fill="#fff"/><rect x="175.00" y="434.75" width="0.90" height="10.85"/><rect x="175.90" y="434.75" width="0.70" height="10.85" fill-opacity="0.40"/><rect x="178.00" y="434.75" width="2.40" height="10.85" fill-opacity="0.50"/><rect x="180.40" y="434.75" width="1.40" height="10.85"/><rect x="181.80" y="434.75" width="1.40" height="10.85" fill-opacity="0.55"/><rect x="183.20" y="434.75" width="1.20" height="10.85"/><rect x="186.05" y="434.75" width="0.70" height="10.85"/><rect x="188.15" y="434.75" width="0.50" height="10.85"/><rect x="190.62" y="434.75" width="0.55" height="10.85"/><rect x="196.03" y="434.75" width="0.55" height="10.85"/><rect x="200.92" y="434.75" width="0.55" height="10.85"/><rect x="209.03" y="434.75" width="0.55" height="10.85"/><rect x="231.10" y="434.75" width="0.60" height="10.85"/><rect x="248.40" y="434.75" width="0.60" height="10.85"/><rect x="272.30" y="434.75" width="0.60" height="10.85"/></g>
<rect x="30.30" y="434.90" width="512.90" height="10.40" fill="none" stroke="#000" stroke-width="0.5"/>
<path d="M65.36 445.30v1.7M172.34 445.30v1.7M279.32 445.30v1.7M386.30 445.30v1.7M493.28 445.30v1.7M30.30 434.90h-1.7M30.30 440.10h-1.7M30.30 445.30h-1.7" stroke="#000" stroke-width="0.65" fill="none"/>
<clipPath id="c7565"><rect x="30.30" y="434.40" width="512.90" height="1"/><rect x="30.30" y="444.80" width="512.90" height="1"/></clipPath>
<g fill="#f00" opacity=".45" clip-path="url(#c7565)"><rect x="30.50" y="434.75" width="142.10" height="10.85"/><rect x="32.60" y="434.75" width="1.00" height="10.85" fill-opacity="0.65" fill="#fff"/><rect x="34.20" y="434.75" width="0.80" height="10.85" fill-opacity="0.60" fill="#fff"/><rect x="36.30" y="434.75" width="1.00" height="10.85" fill-opacity="0.90" fill="#fff"/><rect x="37.90" y="434.75" width="1.60" height="10.85" fill-opacity="0.20" fill="#fff"/><rect x="39.50" y="434.75" width="2.20" height="10.85" fill-opacity="0.10" fill="#fff"/><rect x="102.50" y="434.75" width="0.50" height="10.85" fill-opacity="0.35" fill="#fff"/><rect x="109.50" y="434.75" width="0.40" height="10.85" fill-opacity="0.15" fill="#fff"/><rect x="111.00" y="434.75" width="0.40" height="10.85" fill-opacity="0.40" fill="#fff"/><rect x="120.00" y="434.75" width="0.40" height="10.85" fill-opacity="0.15" fill="#fff"/><rect x="133.10" y="434.75" width="0.60" height="10.85" fill-opacity="0.50" fill="#fff"/><rect x="139.10" y="434.75" width="0.40" height="10.85" fill-opacity="0.20" fill="#fff"/><rect x="146.70" y="434.75" width="0.40" height="10.85" fill-opacity="0.35" fill="#fff"/><rect x="148.10" y="434.75" width="0.40" height="10.85" fill-opacity="0.30" fill="#fff"/><rect x="152.00" y="434.75" width="1.30" height="10.85" fill-opacity="0.45" fill="#fff"/><rect x="153.60" y="434.75" width="0.80" height="10.85" fill-opacity="0.45" fill="#fff"/><rect x="159.30" y="434.75" width="0.70" height="10.85" fill-opacity="0.40" fill="#fff"/><rect x="165.00" y="434.75" width="1.00" height="10.85" fill-opacity="0.50" fill="#fff"/><rect x="169.30" y="434.75" width="2.20" height="10.85" fill-opacity="0.40" fill="#fff"/><rect x="171.50" y="434.75" width="1.10" height="10.85" fill-opacity="0.75" fill="#fff"/><rect x="175.00" y="434.75" width="0.90" height="10.85"/><rect x="175.90" y="434.75" width="0.70" height="10.85" fill-opacity="0.40"/><rect x="178.00" y="434.75" width="2.40" height="10.85" fill-opacity="0.50"/><rect x="180.40" y="434.75" width="1.40" height="10.85"/><rect x="181.80" y="434.75" width="1.40" height="10.85" fill-opacity="0.55"/><rect x="183.20" y="434.75" width="1.20" height="10.85"/><rect x="186.05" y="434.75" width="0.70" height="10.85"/><rect x="188.15" y="434.75" width="0.50" height="10.85"/><rect x="190.62" y="434.75" width="0.55" height="10.85"/><rect x="196.03" y="434.75" width="0.55" height="10.85"/><rect x="200.92" y="434.75" width="0.55" height="10.85"/><rect x="209.03" y="434.75" width="0.55" height="10.85"/><rect x="231.10" y="434.75" width="0.60" height="10.85"/><rect x="248.40" y="434.75" width="0.60" height="10.85"/><rect x="272.30" y="434.75" width="0.60" height="10.85"/></g>
<text transform="rotate(0.03 65.76 452.65)" x="65.76" y="452.65" class="k" font-size="4.94" text-anchor="middle">−60</text>
<text transform="rotate(0.03 172.74 452.65)" x="172.74" y="452.65" class="k" font-size="4.94" text-anchor="middle">−40</text>
<text transform="rotate(0.03 279.72 452.65)" x="279.72" y="452.65" class="k" font-size="4.94" text-anchor="middle">−20</text>
<text transform="rotate(0.03 386.30 452.65)" x="386.30" y="452.65" class="k" font-size="4.94" text-anchor="middle">0</text>
<text transform="rotate(0.03 493.28 452.65)" x="493.28" y="452.65" class="k" font-size="4.94" text-anchor="middle">20</text>
<text transform="rotate(0.03 26.80 436.70)" x="26.80" y="436.70" class="k" font-size="4.94" text-anchor="end">0.25</text>
<text transform="rotate(0.03 26.80 441.90)" x="26.80" y="441.90" class="k" font-size="4.94" text-anchor="end">0.00</text>
<text transform="rotate(0.03 26.80 447.10)" x="26.80" y="447.10" class="k" font-size="4.94" text-anchor="end">−0.25</text>
<text transform="rotate(0.03 286.75 431.95)" x="286.75" y="431.95" font-size="7.45" text-anchor="middle">Voip</text>
<text transform="rotate(0.03 252.00 473.30)" x="252.0" y="473.3" style="font-family:'Liberation Serif',serif" font-size="15.4"><tspan x="252.0" textLength="17.2" lengthAdjust="spacingAndGlyphs">(<tspan font-weight="bold">b</tspan>)</tspan> <tspan x="274.6" textLength="30.4" lengthAdjust="spacingAndGlyphs">VPN</tspan></text>
</svg>
</body></html>
